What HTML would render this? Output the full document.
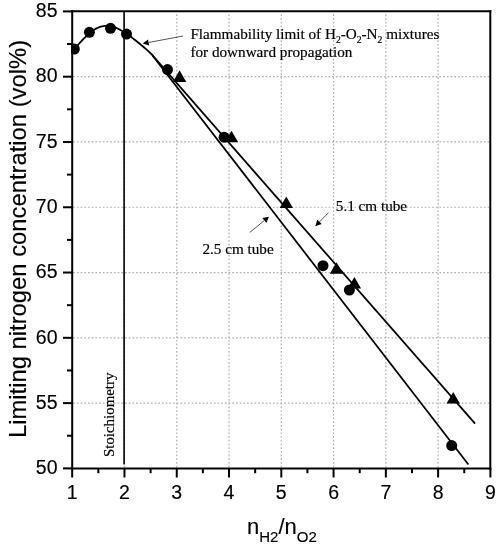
<!DOCTYPE html>
<html><head><meta charset="utf-8"><style>
html,body{margin:0;padding:0;background:#fff;}
svg{display:block;}
</style></head><body>
<svg width="501" height="550" viewBox="0 0 501 550">
<defs><clipPath id="pc"><rect x="71.2" y="10.2" width="420" height="459"/></clipPath></defs>
<rect width="501" height="550" fill="#fff"/>
<g stroke="#b0b0b0" stroke-width="1.2" stroke-dasharray="1.7 2.0" fill="none">
<line x1="124.47" y1="467.40" x2="124.47" y2="12.20"/>
<line x1="176.75" y1="467.40" x2="176.75" y2="12.20"/>
<line x1="229.02" y1="467.40" x2="229.02" y2="12.20"/>
<line x1="281.30" y1="467.40" x2="281.30" y2="12.20"/>
<line x1="333.57" y1="467.40" x2="333.57" y2="12.20"/>
<line x1="385.85" y1="467.40" x2="385.85" y2="12.20"/>
<line x1="438.12" y1="467.40" x2="438.12" y2="12.20"/>
<line x1="73.20" y1="403.11" x2="489.30" y2="403.11"/>
<line x1="73.20" y1="337.82" x2="489.30" y2="337.82"/>
<line x1="73.20" y1="272.54" x2="489.30" y2="272.54"/>
<line x1="73.20" y1="207.26" x2="489.30" y2="207.26"/>
<line x1="73.20" y1="141.97" x2="489.30" y2="141.97"/>
<line x1="73.20" y1="76.69" x2="489.30" y2="76.69"/>
</g>
<g clip-path="url(#pc)" fill="none" stroke="#000" stroke-width="1.8" stroke-linejoin="round">
<path d="M70.00,53.04 L71.40,51.80 L72.80,50.45 L74.19,49.03 L75.59,47.55 L76.99,46.03 L78.39,44.49 L79.79,42.95 L81.19,41.42 L82.58,39.92 L83.98,38.45 L85.38,37.03 L86.78,35.67 L88.18,34.37 L89.58,33.15 L90.97,32.02 L92.37,30.97 L93.77,30.01 L95.17,29.15 L96.57,28.38 L97.97,27.72 L99.36,27.15 L100.76,26.69 L102.16,26.33 L103.56,26.08 L104.96,25.92 L106.36,25.86 L107.75,25.89 L109.15,26.02 L110.55,26.24 L111.95,26.54 L113.35,26.92 L114.75,27.39 L116.14,27.92 L117.54,28.52 L118.94,29.19 L120.34,29.92 L121.74,30.70 L123.14,31.53 L124.53,32.41 L125.93,33.32 L127.33,34.28 L128.73,35.26 L130.13,36.28 L131.53,37.32 L132.92,38.38 L134.32,39.46 L135.72,40.56 L137.12,41.68 L138.52,42.81 L139.92,43.96 L141.31,45.11 L142.71,46.29 L144.11,47.48 L145.51,48.69 L146.91,49.92 L148.31,51.18 L149.70,52.48 L151.10,53.80 L152.50,55.18 L152.3,55.2"/>
<path d="M152.3,55.2 L468.4,464.5" stroke-width="1.75"/>
<path d="M152.3,55.2 L475.1,423.7" stroke-width="1.75"/>
</g>
<g clip-path="url(#pc)" fill="#000">
<circle cx="74.3" cy="49.0" r="5.5"/>
<circle cx="89.4" cy="32.3" r="5.5"/>
<circle cx="110.5" cy="28.3" r="5.5"/>
<circle cx="126.5" cy="34.1" r="5.5"/>
<circle cx="167.5" cy="69.6" r="5.5"/>
<circle cx="224.1" cy="137.2" r="5.5"/>
<circle cx="323" cy="265.7" r="5.5"/>
<circle cx="349.4" cy="290" r="5.5"/>
<circle cx="451.7" cy="445.6" r="5.5"/>
<polygon points="179.60,70.30 186.30,81.90 172.90,81.90"/>
<polygon points="231.50,130.70 238.20,142.30 224.80,142.30"/>
<polygon points="286.30,196.40 293.00,208.00 279.60,208.00"/>
<polygon points="336.50,262.20 343.20,273.80 329.80,273.80"/>
<polygon points="354.40,276.90 361.10,288.50 347.70,288.50"/>
<polygon points="453.20,392.00 459.90,403.60 446.50,403.60"/>
</g>
<line x1="124.1" y1="11.2" x2="124.1" y2="464.6" stroke="#000" stroke-width="1.6"/>
<g stroke="#000" stroke-width="2.0" fill="none" stroke-linecap="square">
<line x1="72.2" y1="11.2" x2="490.3" y2="11.2"/>
<line x1="72.2" y1="11.2" x2="72.2" y2="468.4"/>
<line x1="72.2" y1="468.4" x2="490.3" y2="468.4"/>
<line x1="490.3" y1="11.2" x2="490.3" y2="468.4"/>
</g>
<g stroke="#000" stroke-width="2.0" fill="none">
<line x1="63" y1="468.39" x2="72.2" y2="468.39"/>
<line x1="63" y1="403.11" x2="72.2" y2="403.11"/>
<line x1="63" y1="337.82" x2="72.2" y2="337.82"/>
<line x1="63" y1="272.54" x2="72.2" y2="272.54"/>
<line x1="63" y1="207.26" x2="72.2" y2="207.26"/>
<line x1="63" y1="141.97" x2="72.2" y2="141.97"/>
<line x1="63" y1="76.69" x2="72.2" y2="76.69"/>
<line x1="63" y1="11.40" x2="72.2" y2="11.40"/>
<line x1="67" y1="435.75" x2="72.2" y2="435.75"/>
<line x1="67" y1="370.47" x2="72.2" y2="370.47"/>
<line x1="67" y1="305.18" x2="72.2" y2="305.18"/>
<line x1="67" y1="239.90" x2="72.2" y2="239.90"/>
<line x1="67" y1="174.61" x2="72.2" y2="174.61"/>
<line x1="67" y1="109.33" x2="72.2" y2="109.33"/>
<line x1="67" y1="44.04" x2="72.2" y2="44.04"/>
<line x1="72.20" y1="468.4" x2="72.20" y2="477.5"/>
<line x1="124.47" y1="468.4" x2="124.47" y2="477.5"/>
<line x1="176.75" y1="468.4" x2="176.75" y2="477.5"/>
<line x1="229.02" y1="468.4" x2="229.02" y2="477.5"/>
<line x1="281.30" y1="468.4" x2="281.30" y2="477.5"/>
<line x1="333.57" y1="468.4" x2="333.57" y2="477.5"/>
<line x1="385.85" y1="468.4" x2="385.85" y2="477.5"/>
<line x1="438.12" y1="468.4" x2="438.12" y2="477.5"/>
<line x1="490.40" y1="468.4" x2="490.40" y2="477.5"/>
<line x1="98.34" y1="468.4" x2="98.34" y2="473.2"/>
<line x1="150.61" y1="468.4" x2="150.61" y2="473.2"/>
<line x1="202.89" y1="468.4" x2="202.89" y2="473.2"/>
<line x1="255.16" y1="468.4" x2="255.16" y2="473.2"/>
<line x1="307.44" y1="468.4" x2="307.44" y2="473.2"/>
<line x1="359.71" y1="468.4" x2="359.71" y2="473.2"/>
<line x1="411.99" y1="468.4" x2="411.99" y2="473.2"/>
<line x1="464.26" y1="468.4" x2="464.26" y2="473.2"/>
</g>
<g font-family="Liberation Sans, Arial, sans-serif" font-size="19.5" fill="#000" stroke="#000" stroke-width="0.15">
<text x="57.5" y="474.09" text-anchor="end">50</text>
<text x="57.5" y="408.81" text-anchor="end">55</text>
<text x="57.5" y="343.52" text-anchor="end">60</text>
<text x="57.5" y="278.24" text-anchor="end">65</text>
<text x="57.5" y="212.96" text-anchor="end">70</text>
<text x="57.5" y="147.67" text-anchor="end">75</text>
<text x="57.5" y="82.39" text-anchor="end">80</text>
<text x="57.5" y="17.10" text-anchor="end">85</text>
<text x="72.20" y="498.5" text-anchor="middle">1</text>
<text x="124.47" y="498.5" text-anchor="middle">2</text>
<text x="176.75" y="498.5" text-anchor="middle">3</text>
<text x="229.02" y="498.5" text-anchor="middle">4</text>
<text x="281.30" y="498.5" text-anchor="middle">5</text>
<text x="333.57" y="498.5" text-anchor="middle">6</text>
<text x="385.85" y="498.5" text-anchor="middle">7</text>
<text x="438.12" y="498.5" text-anchor="middle">8</text>
<text x="490.40" y="498.5" text-anchor="middle">9</text>
</g>
<text transform="translate(26,239) rotate(-90)" text-anchor="middle" font-family="Liberation Sans, Arial, sans-serif" font-size="23.8" stroke="#000" stroke-width="0.15">Limiting nitrogen concentration (vol%)</text>
<text x="247" y="534" font-family="Liberation Sans, Arial, sans-serif" font-size="22" stroke="#000" stroke-width="0.15">n<tspan font-size="15" dy="8">H2</tspan><tspan dy="-8">/n</tspan><tspan font-size="15" dy="8">O2</tspan></text>
<g font-family="Liberation Serif, Times New Roman, serif" font-size="15.2" fill="#000" stroke="#000" stroke-width="0.18">
<text x="190.4" y="39.3">Flammability limit of H<tspan font-size="9.6" dy="4">2</tspan><tspan dy="-4">-O</tspan><tspan font-size="9.6" dy="4">2</tspan><tspan dy="-4">-N</tspan><tspan font-size="9.6" dy="4">2</tspan><tspan dy="-4"> mixtures</tspan></text>
<text x="190.4" y="56.8">for downward propagation</text>
<text x="335.8" y="211.2">5.1 cm tube</text>
<text x="202.4" y="254">2.5 cm tube</text>
<text transform="translate(114.2,457.0) rotate(-90)" font-size="14.9">Stoichiometry</text>
</g>
<line x1="183" y1="36" x2="148.60" y2="42.49" stroke="#444" stroke-width="0.9"/><polygon points="142.7,43.6 148.02,39.44 149.17,45.53" fill="#000"/>
<line x1="328.6" y1="212.6" x2="319.50" y2="221.91" stroke="#444" stroke-width="0.9"/><polygon points="315.3,226.2 317.28,219.74 321.71,224.08" fill="#000"/>
<line x1="249.8" y1="232.4" x2="264.36" y2="220.50" stroke="#444" stroke-width="0.9"/><polygon points="269,216.7 266.32,222.90 262.39,218.10" fill="#000"/>
</svg>
</body></html>
